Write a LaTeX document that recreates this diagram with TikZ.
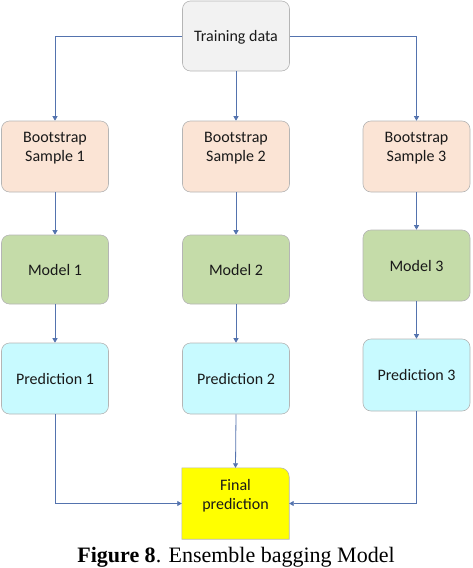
\documentclass[tikz,border=0pt]{standalone}
\usepackage{fontspec}
\setmainfont{Liberation Serif}
\newfontfamily\boxfont{Carlito}
\usetikzlibrary{arrows.meta,backgrounds}
\definecolor{arrowc}{HTML}{5473AE}
\definecolor{trainc}{HTML}{F2F2F2}
\definecolor{bootc}{HTML}{FBE4D5}
\definecolor{modelc}{HTML}{C5DCA9}
\definecolor{predc}{HTML}{C8FAFF}
\definecolor{finalc}{HTML}{FFFF00}
\definecolor{borderc}{HTML}{B5B5B5}
\tikzset{
  box/.style={draw=borderc, line width=0.6pt, rounded corners=8pt, minimum width=107pt, minimum height=71pt, inner sep=0pt},
  txt/.style={font=\boxfont\fontsize{16}{19}\selectfont, text=black!90, align=center, inner sep=0pt},
  conn/.style={draw=arrowc, line width=0.8pt, -{Triangle[width=5pt,length=4.5pt]}},
}
\begin{document}
\begin{tikzpicture}[x=1pt,y=-1pt]
\useasboundingbox (0,0) rectangle (472,568);
% boxes
\node[box, fill=trainc, minimum height=70pt] (T) at (236,36) {};
\node[txt] (Tt) at (236,37) {Training data};
\node[box, fill=bootc] (B1) at (55,156.5) {};
\node[box, fill=bootc] (B2) at (236,156.5) {};
\node[box, fill=bootc] (B3) at (416.5,156.5) {};
\node[txt] (B1t) at (55,148) {Bootstrap\\Sample 1};
\node[txt] (B2t) at (236,148) {Bootstrap\\Sample 2};
\node[txt] (B3t) at (416.5,148) {Bootstrap\\Sample 3};
\node[box, fill=modelc, minimum height=69pt] (M1) at (55,269.5) {};
\node[box, fill=modelc, minimum height=69pt] (M2) at (236,269.5) {};
\node[box, fill=modelc, minimum height=71pt] (M3) at (416.5,265.5) {};
\node[txt] (M1t) at (55,270) {Model 1};
\node[txt] (M2t) at (236,270) {Model 2};
\node[txt] (M3t) at (416.5,266) {Model 3};
\node[box, fill=predc] (P1) at (55,378.5) {};
\node[box, fill=predc] (P2) at (236,378.5) {};
\node[box, fill=predc, minimum height=72pt] (P3) at (416.5,375) {};
\node[txt] (P1t) at (55,379) {Prediction 1};
\node[txt] (P2t) at (236,379) {Prediction 2};
\node[txt] (P3t) at (416.5,375) {Prediction 3};
% final prediction box (only top right corner rounded)
\node[minimum width=107pt, minimum height=71pt, inner sep=0pt] (F) at (235.5,503.5) {};
\begin{scope}[on background layer]
\draw[draw=borderc, line width=0.6pt, fill=finalc]
  (F.south west) -- (F.north west) -- ([xshift=-9pt]F.north east)
  arc[start angle=90, end angle=0, radius=9pt] -- (F.south east) -- cycle;
\end{scope}
\node[txt] (Ft) at (235.5,496) {Final\\prediction};
% connectors
\coordinate (TL) at (55,36);
\coordinate (TR) at (416.5,36);
\draw[conn] (T.west) -- (TL) -- (B1.north);
\draw[conn] (T.south) -- (B2.north);
\draw[conn] (T.east) -- (TR) -- (B3.north);
\draw[conn] (B1.south) -- (M1.north);
\draw[conn] (B2.south) -- (M2.north);
\draw[conn] (B3.south) -- (M3.north);
\draw[conn] (M1.south) -- (P1.north);
\draw[conn] (M2.south) -- (P2.north);
\draw[conn] (M3.south) -- (P3.north);
\draw[conn] (P1.south) |- (F.west);
\draw[conn] (P2.south) -- (F.north);
\draw[conn] (P3.south) |- (F.east);
% caption
\node[anchor=base, inner sep=0pt, font=\fontsize{22}{24}\selectfont] (cap) at (236,562) {\textbf{Figure 8}. Ensemble bagging Model};
\end{tikzpicture}
\end{document}
